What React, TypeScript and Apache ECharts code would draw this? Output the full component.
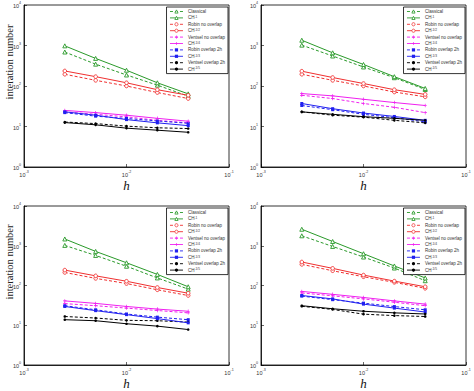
import React, { useEffect, useRef } from 'react';
import * as echarts from 'echarts';

// mesh sizes h
const hValues = [0.0025, 0.005, 0.01, 0.02, 0.04];

const seriesNames = [
  'Classical', 'CH-1', 'Robin no overlap', 'CH-1/2', 'Ventsel no overlap',
  'CH-1/4', 'Robin overlap 2h', 'CH-1/3', 'Ventsel overlap 2h', 'CH-1/5',
];

// Panel 1 (top-left)
const p1Classical = [690, 346, 187, 105, 56];
const p1Ch1 = [980, 480, 245, 120, 64];
const p1RobinNo = [195, 138, 100, 69, 49];
const p1Ch12 = [235, 170, 120, 81, 59];
const p1VentselNo = [23, 20, 17.3, 14.2, 12.3];
const p1Ch14 = [25, 22, 19, 15.9, 13.5];
const p1Robin2h = [22, 18, 15.8, 13.7, 12];
const p1Ch13 = [23, 19, 14.8, 12.3, 10.5];
const p1Ventsel2h = [12.9, 11.8, 10.2, 9.3, 8.9];
const p1Ch15 = [12.5, 11, 9.1, 8.1, 7.2];

// Panel 2 (top-right)
const p2Classical = [1020, 550, 295, 160, 82];
const p2Ch1 = [1350, 660, 340, 170, 87];
const p2RobinNo = [195, 138, 100, 71, 54];
const p2Ch12 = [232, 162, 115, 81, 62];
const p2VentselNo = [59, 49, 37, 29.8, 22];
const p2Ch14 = [65, 57, 47, 39, 33];
const p2Robin2h = [33, 26, 20, 16.5, 13];
const p2Ch13 = [37, 27.5, 21.5, 17.7, 14.2];
const p2Ventsel2h = [23, 19, 17, 14.2, 12.3];
const p2Ch15 = [23, 20, 17.5, 15.9, 14.2];

// Panel 3 (bottom-left)
const p3Classical = [1020, 570, 305, 155, 81];
const p3Ch1 = [1480, 720, 373, 190, 93];
const p3RobinNo = [213, 151, 112, 78, 56];
const p3Ch12 = [244, 175, 128, 89, 64];
const p3VentselNo = [35, 31, 27, 23.5, 20.5];
const p3Ch14 = [41, 35.5, 29.7, 25.5, 22.5];
const p3Robin2h = [31, 24.5, 19.2, 16, 13.8];
const p3Ch13 = [29.7, 23.3, 18.5, 14.7, 11.5];
const p3Ventsel2h = [16.6, 15.2, 13.3, 13, 12];
const p3Ch15 = [13.8, 13, 10.9, 9.5, 7.8];

// Panel 4 (bottom-right)
const p4Classical = [1780, 960, 520, 275, 132];
const p4Ch1 = [2600, 1280, 630, 310, 155];
const p4RobinNo = [340, 235, 166, 120, 85];
const p4Ch12 = [390, 270, 183, 129, 93];
const p4VentselNo = [65, 55, 46, 38, 31];
const p4Ch14 = [71, 60, 50, 41, 34];
const p4Robin2h = [54, 44, 36, 29.5, 24.5];
const p4Ch13 = [56, 46, 34, 27, 21.5];
const p4Ventsel2h = [30, 25, 19, 17.5, 16.6];
const p4Ch15 = [31, 26, 22.5, 20.5, 19.2];

const panels = [
  [p1Classical, p1Ch1, p1RobinNo, p1Ch12, p1VentselNo, p1Ch14, p1Robin2h, p1Ch13, p1Ventsel2h, p1Ch15],
  [p2Classical, p2Ch1, p2RobinNo, p2Ch12, p2VentselNo, p2Ch14, p2Robin2h, p2Ch13, p2Ventsel2h, p2Ch15],
  [p3Classical, p3Ch1, p3RobinNo, p3Ch12, p3VentselNo, p3Ch14, p3Robin2h, p3Ch13, p3Ventsel2h, p3Ch15],
  [p4Classical, p4Ch1, p4RobinNo, p4Ch12, p4VentselNo, p4Ch14, p4Robin2h, p4Ch13, p4Ventsel2h, p4Ch15],
];

const GREEN = '#2a9a2a';
const RED = '#f03030';
const MAGENTA = '#f020f0';
const BLUE = '#2020f0';
const BLACK = '#000000';
const PLUS = 'path://M4,0h2v4h4v2h-4v4h-2v-4h-4v-2h4z';

const seriesStyles = [
  { color: GREEN, dashed: true, symbol: 'triangle', hollow: true, size: 4 },
  { color: GREEN, dashed: false, symbol: 'triangle', hollow: true, size: 4 },
  { color: RED, dashed: true, symbol: 'circle', hollow: true, size: 3.6 },
  { color: RED, dashed: false, symbol: 'circle', hollow: true, size: 3.6 },
  { color: MAGENTA, dashed: true, symbol: PLUS, hollow: false, size: 3.5 },
  { color: MAGENTA, dashed: false, symbol: PLUS, hollow: false, size: 3.5 },
  { color: BLUE, dashed: true, symbol: 'rect', hollow: false, size: 3 },
  { color: BLUE, dashed: false, symbol: 'rect', hollow: false, size: 3 },
  { color: BLACK, dashed: true, symbol: 'circle', hollow: false, size: 2.6 },
  { color: BLACK, dashed: false, symbol: 'circle', hollow: false, size: 2.6 },
];

const grids = [
  { left: 24, top: 5, width: 205, height: 162 },
  { left: 261, top: 5, width: 205, height: 162 },
  { left: 24, top: 206, width: 205, height: 160 },
  { left: 261, top: 206, width: 205, height: 160 },
];

const legendPos = [
  { right: 246, top: 7 },
  { right: 9, top: 7 },
  { right: 246, top: 208 },
  { right: 9, top: 208 },
];

const tickLabel = {
  color: '#333',
  fontFamily: 'Liberation Sans',
  fontSize: 5.5,
  formatter: (v: number) => `{b|10}{e|${Math.round(Math.log10(v))}}`,
  rich: {
    b: { fontSize: 5.5, lineHeight: 8, verticalAlign: 'bottom', fontFamily: 'Liberation Sans', color: '#333' },
    e: { fontSize: 3.6, lineHeight: 8, verticalAlign: 'top', fontFamily: 'Liberation Sans', color: '#333' },
  },
};

export default function App() {
  const ref = useRef<HTMLDivElement>(null);
  useEffect(() => {
    if (!ref.current) return;
    const chart = echarts.init(ref.current, undefined, { renderer: 'svg' });
    const axisLine = { show: true, lineStyle: { color: '#000', width: 0.8 } };
    const axisTick = { show: true, inside: true, length: 3, lineStyle: { color: '#000', width: 0.6 } };

    const xAxes = grids.map((_, k) => ({
      type: 'log', logBase: 10, min: 0.001, max: 0.1, gridIndex: k,
      axisLine, axisTick, splitLine: { show: false },
      axisLabel: { ...tickLabel, margin: 3 },
      name: 'h', nameLocation: 'middle', nameGap: 12,
      nameTextStyle: { fontFamily: 'Liberation Serif', fontStyle: 'italic', fontSize: 13, color: '#111' },
    }));
    const yAxes = grids.map((_, k) => ({
      type: 'log', logBase: 10, min: 1, max: 10000, gridIndex: k,
      axisLine, axisTick, splitLine: { show: false },
      axisLabel: { ...tickLabel, margin: 3 },
    }));

    const series: any[] = [];
    panels.forEach((panel, k) => {
      panel.forEach((vals, i) => {
        const st = seriesStyles[i];
        series.push({
          type: 'line',
          name: seriesNames[i],
          xAxisIndex: k,
          yAxisIndex: k,
          data: hValues.map((h, j) => [h, vals[j]]),
          symbol: st.symbol,
          symbolSize: st.size,
          showSymbol: true,
          z: st.dashed ? 2 : 3,
          lineStyle: { color: st.color, width: 1, type: st.dashed ? [3, 2] : 'solid' },
          itemStyle: { color: st.hollow ? '#fff' : st.color, borderColor: st.color, borderWidth: st.hollow ? 0.9 : 0 },
        });
      });
    });

    const legendData = seriesNames.map((name, i) => {
      const st = seriesStyles[i];
      return {
        name,
        itemStyle: { color: st.hollow ? '#fff' : st.color, borderColor: st.color, borderWidth: st.hollow ? 0.8 : 0 },
        lineStyle: { color: st.color, width: 0.9, type: st.dashed ? [3, 2] : 'solid' },
      };
    });

    const legends = legendPos.map((p) => ({
      ...p,
      orient: 'vertical',
      data: legendData,
      selectedMode: false,
      itemWidth: 13,
      itemHeight: 4,
      itemGap: 1.4,
      padding: [2, 3, 2, 3],
      borderColor: '#000',
      borderWidth: 0.8,
      backgroundColor: '#fff',
      formatter: (name: string) => (name.startsWith('CH') ? `{a|CH}{s|${name.slice(2)}}` : name),
      textStyle: {
        fontSize: 4.5,
        lineHeight: 5,
        fontFamily: 'Liberation Sans',
        color: '#333',
        rich: {
          a: { fontSize: 4.5, lineHeight: 5, verticalAlign: 'bottom', fontFamily: 'Liberation Sans', color: '#333' },
          s: { fontSize: 3.2, lineHeight: 5, verticalAlign: 'top', fontFamily: 'Liberation Sans', color: '#333' },
        },
      },
    }));

    const yLabelStyle = {
      text: 'interation number',
      font: '10.5px "Liberation Serif"',
      fill: '#222',
      align: 'center',
      verticalAlign: 'middle',
    };

    chart.setOption({
      animation: false,
      backgroundColor: '#fff',
      grid: grids.map((g) => ({ ...g, show: true, borderColor: '#000', borderWidth: 0.8, backgroundColor: 'transparent' })),
      xAxis: xAxes,
      yAxis: yAxes,
      legend: legends,
      series,
      graphic: [
        { type: 'text', x: 9, y: 62, rotation: Math.PI / 2, style: yLabelStyle },
        { type: 'text', x: 9, y: 262, rotation: Math.PI / 2, style: yLabelStyle },
      ],
    });
    return () => chart.dispose();
  }, []);
  return <div ref={ref} style={{ position: 'fixed', left: 0, top: 0, width: 474, height: 391 }} />;
}
